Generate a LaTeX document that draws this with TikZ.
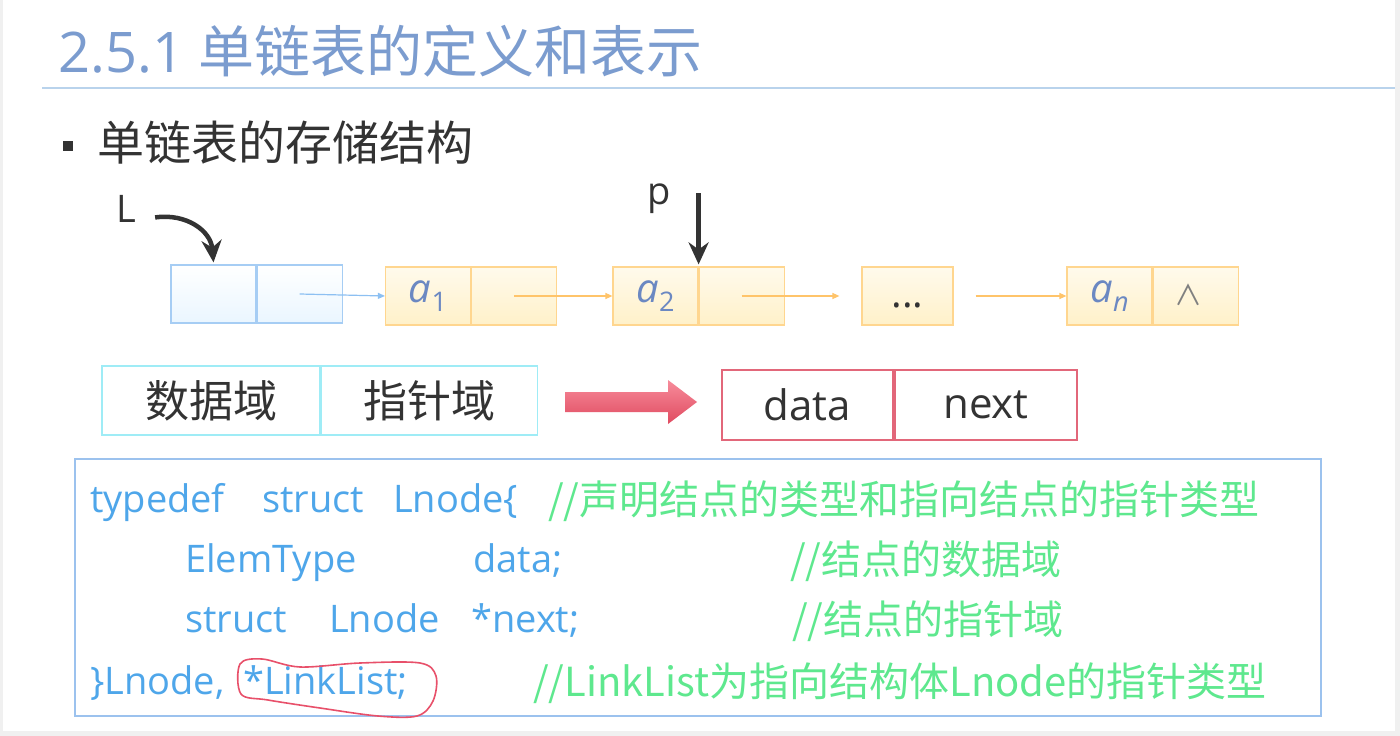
\documentclass[tikz,border=0pt]{standalone}
\usepackage{fontspec}
\setmainfont{Open Sans}
\newfontfamily\cjk{Noto Sans CJK SC}
\usetikzlibrary{arrows.meta,positioning}

\definecolor{titleblue}{HTML}{7B9CCF}
\definecolor{ruleblue}{HTML}{B9D3EC}
\definecolor{txtgray}{HTML}{333333}
\definecolor{headblue}{HTML}{A6CDF4}
\definecolor{headfill}{HTML}{EAF6FF}
\definecolor{nodeorange}{HTML}{FFD68F}
\definecolor{nodefill}{HTML}{FFF1C9}
\definecolor{linkblue}{HTML}{8DC0F2}
\definecolor{linkorange}{HTML}{FFC46A}
\definecolor{elemblue}{HTML}{6B88C2}
\definecolor{fieldcyan}{HTML}{9FECF6}
\definecolor{fieldred}{HTML}{E2677A}
\definecolor{arrowtop}{HTML}{F78C9B}
\definecolor{arrowbot}{HTML}{E04A60}
\definecolor{codeblue}{HTML}{4EA6EA}
\definecolor{codegreen}{HTML}{5EE88E}
\definecolor{boxblue}{HTML}{9CC2EE}
\definecolor{inkred}{HTML}{E8506A}

\newcommand{\fsz}[1]{\fontsize{#1}{#1}\selectfont}
\newcommand{\elem}[1]{{\itshape a}\raisebox{-9pt}{\fsz{27}#1}}

\begin{document}
\begin{tikzpicture}[x=1pt, y=-1pt,
  headcell/.style={draw=headblue, line width=1.2pt, top color=white, middle color=white, bottom color=headfill,
                   minimum width=85pt, minimum height=58pt, inner sep=0pt},
  listcell/.style={draw=nodeorange, line width=1.2pt, top color=nodefill!35!white, bottom color=nodefill,
                   minimum width=85pt, minimum height=58pt, inner sep=0pt, text=elemblue, font=\fsz{40}},
  fieldcell/.style={draw=fieldcyan, line width=1.5pt, minimum height=69pt, inner sep=0pt,
                    text=txtgray, font=\cjk\fsz{44}},
  namecell/.style={draw=fieldred, line width=2pt, minimum height=70pt, inner sep=0pt,
                   text=txtgray, font=\fsz{42}},
  link/.style={-{Triangle[length=7pt,width=6pt]}, line width=1.2pt},
  pointer/.style={-{Stealth[length=22pt,width=20pt]}, line width=4.5pt, draw=txtgray},
  code/.style={anchor=base west, inner sep=0pt, font=\fsz{38}, text=codeblue},
  note/.style={anchor=base west, inner sep=0pt, font=\cjk\fsz{40}, text=codegreen}]
  \useasboundingbox (0,0) rectangle (1400,736);
  \fill[gray!12] (0,0) rectangle (1400,736);
  \fill[white] (3,0) rectangle (1395,731);
  % title and heading
  \node[anchor=base west, inner sep=0pt, text=titleblue, font=\fsz{56}] (title) at (58,72) {2.5.1 {\cjk 单链表的定义和表示}};
  \draw[ruleblue, line width=2pt] (42,88) -- (1395,88);
  \node[fill=txtgray, minimum size=10pt, inner sep=0pt] (bullet) at (67.5,145.5) {};
  \node[anchor=base west, inner sep=0pt, text=txtgray, font=\cjk\fsz{47}] (heading) at (97,160) {单链表的存储结构};
  % linked list
  \node[headcell] (hl) at (213.5,294) {};
  \node[headcell, right=0pt of hl] (hr) {};
  \node[listcell] (a1l) at (428,296) {\raisebox{-3pt}{\elem{1}}};
  \node[listcell, right=0pt of a1l] (a1r) {};
  \node[listcell] (a2l) at (655.5,296) {\raisebox{-3pt}{\elem{2}}};
  \node[listcell, right=0pt of a2l] (a2r) {};
  \node[listcell, minimum width=91pt, text=txtgray, font=\fsz{40}] (dots) at (907.5,296) {\raisebox{-11pt}[0pt][0pt]{...}};
  \node[listcell] (anl) at (1109.5,296) {\raisebox{-3pt}{\elem{\itshape n}}};
  \node[listcell, right=0pt of anl, text=gray, font=\cjk\fsz{28}] (anr) {\hspace*{-14pt}\raisebox{2pt}{∧}};
  \draw[link, linkblue] (hr.center) -- (a1l.west);
  \draw[link, linkorange] (a1r.center) -- (a2l.west);
  \draw[link, linkorange, shorten >=22pt] (a2r.center) -- (dots.west);
  \draw[link, linkorange, shorten <=22pt] (dots.east) -- (anl.west);
  % pointers L and p
  \node[anchor=base west, inner sep=0pt, text=txtgray, font=\fsz{38}] (L) at (116,222) {L};
  \node[anchor=base west, inner sep=0pt, text=txtgray, font=\fsz{38}] (p) at (647,204) {p};
  \draw[pointer] ([xshift=19pt,yshift=-9pt]L.east) to[out=8, in=95, looseness=1.1] ([yshift=2pt]hl.north);
  \draw[pointer] ([yshift=73pt]a2l.north east) -- ([yshift=2pt]a2l.north east);
  % fields
  \node[fieldcell, minimum width=218pt] (fdata) at (211,400.5) {数据域};
  \node[fieldcell, minimum width=216pt, right=0pt of fdata] (fptr) {指针域};
  \shade[top color=arrowtop, bottom color=arrowbot]
    (565,392) -- (668,392) -- (668,380) -- (697,402) -- (668,424) -- (668,412) -- (565,412) -- cycle;
  \node[namecell, minimum width=171pt] (cdata) at (807.5,405) {data};
  \node[namecell, minimum width=182pt, right=0pt of cdata] (cnext) {next};
  % code
  \node[draw=boxblue, line width=2pt, minimum width=1246pt, minimum height=257pt, inner sep=0pt] (codebox) at (698,587.5) {};
  \node[code] (c11) at (90,512)  {typedef};
  \node[code] (c12) at (262,512) {struct};
  \node[code] (c13) at (393,512) {Lnode\{};
  \node[note] (n1)  at (548,514) {//声明结点的类型和指向结点的指针类型};
  \node[code] (c21) at (185,572) {ElemType};
  \node[code] (c22) at (473,572) {data;};
  \node[note] (n2)  at (790,574) {//结点的数据域};
  \node[code] (c31) at (185,632) {struct};
  \node[code] (c32) at (329,632) {Lnode};
  \node[code] (c33) at (471,632) {*next;};
  \node[note] (n3)  at (792,634) {//结点的指针域};
  \node[code] (c41) at (90,694)  {\}Lnode,};
  \node[code] (c42) at (243,694) {*LinkList;};
  \node[note] (n4)  at (533,696) {//LinkList为指向结构体Lnode的指针类型};
  \draw[inkred, line width=1.6pt] plot[smooth cycle, tension=0.55] coordinates
    {(240,664) (262,659) (300,667) (360,663) (420,663) (436,676) (433,701) (417,716) (378,716) (320,708) (268,700) (241,694)};
\end{tikzpicture}
\end{document}
